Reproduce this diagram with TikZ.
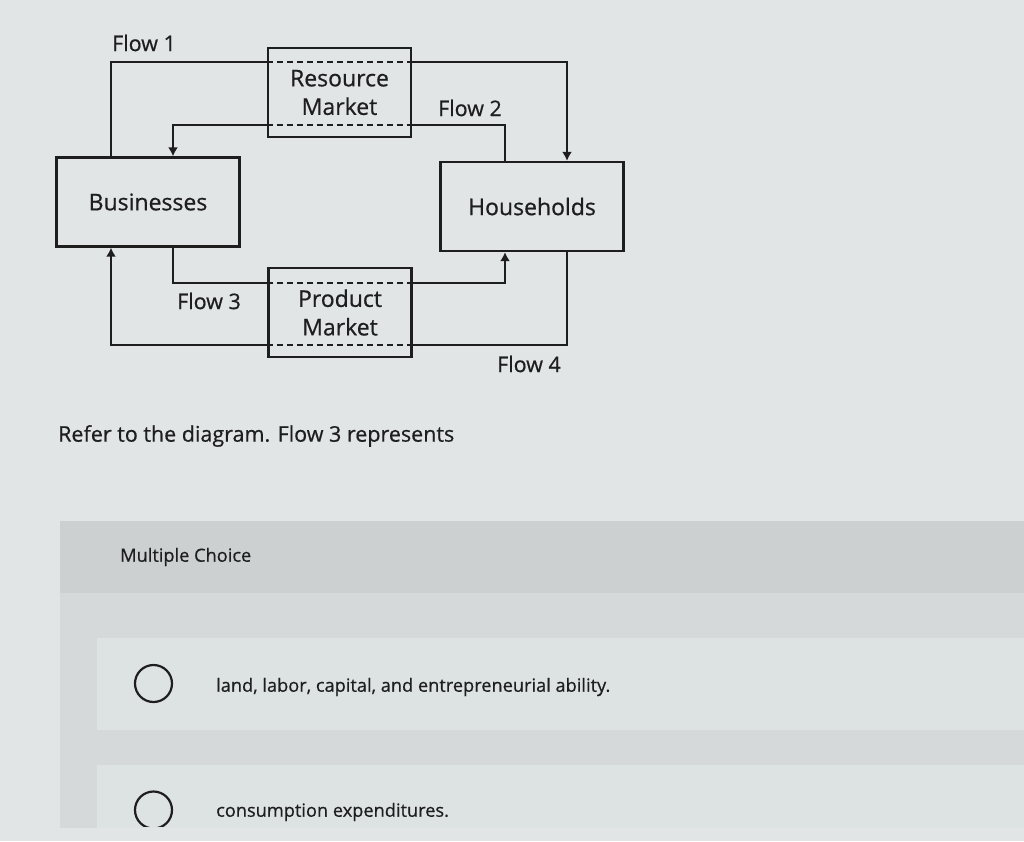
\documentclass[tikz,border=0pt]{standalone}
\usepackage{fontspec}
\setmainfont{Open Sans}[FakeBold=0.6]
\usepackage{tikz}
\usetikzlibrary{arrows.meta}
\definecolor{bgcol}{HTML}{E1E5E5}
\definecolor{hdrcol}{HTML}{CCD0D0}
\definecolor{midcol}{HTML}{D5D9D9}
\definecolor{rowcol}{HTML}{DDE2E3}
\definecolor{inkcol}{HTML}{1E1E1E}
\tikzset{
    market/.style={
           rectangle,
           draw=inkcol, line width=2.4pt,
           minimum width=143pt,
           minimum height=89pt,
           inner sep=2pt,
           align=center,
           font=\fontsize{23}{28.5}\selectfont,
           text=inkcol,
           },
    sector/.style={
           market,
           minimum width=183pt,
           },
    lbl/.style={inner sep=0pt, text=inkcol, font=\fontsize{21.5}{24}\selectfont},
    small/.style={lbl, anchor=west, font=\fontsize{18.2}{20}\selectfont},
    flow/.style={draw=inkcol, line width=2.4pt},
    tip/.style={-{Latex[length=9pt,width=10pt]}},
    split/.style={draw=inkcol, line width=2.2pt, dash pattern=on 6pt off 4pt},
    radio/.style={circle, draw=inkcol, line width=2.2pt, minimum size=37pt, inner sep=0pt},
}

\begin{document}
\begin{tikzpicture}[x=1pt,y=-1pt]
    % screen and answer panel
    \fill[bgcol] (0,0) rectangle (1024,841);
    \useasboundingbox (0,0) rectangle (1024,841);
    \fill[hdrcol] (60,521) rectangle (1024,593);
    \fill[midcol] (60,593) rectangle (1024,828);
    \fill[rowcol] (97,638) rectangle (1024,730);
    \fill[rowcol] (97,765) rectangle (1024,828);

    \node[sector] (bus) at (148,202)   {Businesses};
    \node[sector] (hh)  at (532,206.5) {Households};
    \node[market] (rm)  at (339.5,92.5) {Resource\\Market};
    \node[market] (pm)  at (340,312.5)  {Product\\Market};

    \coordinate (rm_a) at ([yshift=-15pt]rm.north west);
    \coordinate (rm_b) at ([yshift=-15pt]rm.north east);
    \coordinate (rm_c) at ([yshift=13pt]rm.south west);
    \coordinate (rm_d) at ([yshift=13pt]rm.south east);
    \coordinate (pm_a) at ([yshift=-16pt]pm.north west);
    \coordinate (pm_b) at ([yshift=-16pt]pm.north east);
    \coordinate (pm_c) at ([yshift=13pt]pm.south west);
    \coordinate (pm_d) at ([yshift=13pt]pm.south east);

    \path[split] (rm_a) -- (rm_b) (rm_c) -- (rm_d)
                 (pm_a) -- (pm_b) (pm_c) -- (pm_d);

    % flow 1
    \path[flow] ([xshift=-37pt]bus.north) |- (rm_a);
    \path[flow,tip] (rm_b) -| ([xshift=35pt]hh.north);
    % flow 2
    \path[flow] ([xshift=-27pt]hh.north) |- (rm_d);
    \path[flow,tip] (rm_c) -| ([xshift=25pt]bus.north);
    % flow 3
    \path[flow] ([xshift=25pt]bus.south) |- (pm_a);
    \path[flow,tip] (pm_b) -| ([xshift=-27pt]hh.south);
    % flow 4
    \path[flow] ([xshift=35pt]hh.south) |- (pm_d);
    \path[flow,tip] (pm_c) -| ([xshift=-37pt]bus.south);

    \node[lbl] (f_1) at (144,43)  {Flow 1};
    \node[lbl] (f_2) at (470,108) {Flow 2};
    \node[lbl] (f_3) at (209,301) {Flow 3};
    \node[lbl] (f_4) at (529,364) {Flow 4};

    \node[lbl, anchor=west] (q) at (58,436) {Refer to the diagram. Flow 3 represents};
    \node[small] (mc) at (120,557) {Multiple Choice};

    \node[radio] (opt_a) at (153.5,683.5) {};
    \node[small] (ans_a) at (216,687) {land, labor, capital, and entrepreneurial ability.};
    \begin{scope}
        \clip (0,0) rectangle (1024,826);
        \node[radio] (opt_b) at (153.5,810) {};
    \end{scope}
    \node[small] (ans_b) at (216,812) {consumption expenditures.};
\end{tikzpicture}
\end{document}
